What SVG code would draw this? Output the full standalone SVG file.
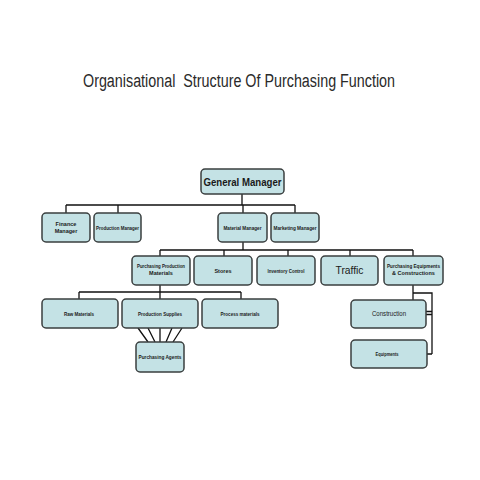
<svg xmlns="http://www.w3.org/2000/svg" width="480" height="480" viewBox="0 0 480 480">
<style>
.box{fill:#c4e2e5;stroke:#3a3f3f;stroke-width:1.5}
.ln{stroke:#111;stroke-width:1.3;fill:none}
.t{font-family:"Liberation Sans",Arial,sans-serif;font-size:5.5px;font-weight:bold;fill:#1a1a1a;text-anchor:middle}
.title{font-family:"Liberation Sans",Arial,sans-serif;font-size:18px;fill:#2a2a2a;white-space:pre}
</style>
<rect width="480" height="480" fill="#fff"/>
<text class="title" x="83" y="87" xml:space="preserve" textLength="312" lengthAdjust="spacingAndGlyphs">Organisational  Structure Of Purchasing Function</text>
<g id="connectors">
<path class="ln" d="M242 194V205M66 205H295M66 205V213M118 205V213M243 205V213M295 205V213"/>
<path class="ln" d="M243 242V250M160 250H413M160 250V256M224 250V256M288 250V256M350 250V256M413 250V256"/>
<path class="ln" d="M160 285V292M79 292H241M79 292V299M160 292V299M241 292V299"/>
<path class="ln" d="M138 328L148 342M148 328L155 342M160 328V342M172 328L166 342M182 328L173 342"/>
<path class="ln" d="M413 285V300M413 293H432V354M426 311.5H432M426 314.5H432M427 354H432"/>
</g>
<g id="general-manager"><rect class="box" x="201" y="169" width="83" height="25" rx="4"/><text class="t" x="242.5" y="186" style="font-size:11.5px" textLength="78" lengthAdjust="spacingAndGlyphs">General Manager</text></g>
<g id="finance-manager"><rect class="box" x="42" y="213" width="48" height="29" rx="4"/><text class="t" x="66" y="226">Finance</text><text class="t" x="66" y="233">Manager</text></g>
<g id="production-manager"><rect class="box" x="94" y="213" width="47" height="29" rx="4"/><text class="t" x="117.5" y="229.5" textLength="43" lengthAdjust="spacingAndGlyphs">Production Manager</text></g>
<g id="material-manager"><rect class="box" x="218" y="213" width="49" height="29" rx="4"/><text class="t" x="242.5" y="229.5" textLength="38" lengthAdjust="spacingAndGlyphs">Material Manager</text></g>
<g id="marketing-manager"><rect class="box" x="271" y="213" width="48" height="29" rx="4"/><text class="t" x="295" y="229.5" textLength="43" lengthAdjust="spacingAndGlyphs">Marketing Manager</text></g>
<g id="purchasing-production-materials"><rect class="box" x="132" y="256" width="58" height="29" rx="4"/><text class="t" x="161" y="268" textLength="48" lengthAdjust="spacingAndGlyphs">Purchasing Production</text><text class="t" x="161" y="275">Materials</text></g>
<g id="stores"><rect class="box" x="194" y="256" width="58" height="29" rx="4"/><text class="t" x="223" y="272.5">Stores</text></g>
<g id="inventory-control"><rect class="box" x="257" y="256" width="58" height="29" rx="4"/><text class="t" x="286" y="272.5" textLength="37" lengthAdjust="spacingAndGlyphs">Inventory Control</text></g>
<g id="traffic"><rect class="box" x="321" y="256" width="57" height="29" rx="4"/><text class="t" x="349.5" y="274" style="font-size:10px;font-weight:normal" textLength="28" lengthAdjust="spacingAndGlyphs">Traffic</text></g>
<g id="purchasing-equipments"><rect class="box" x="384" y="256" width="59" height="29" rx="4"/><text class="t" x="413.5" y="268" textLength="53" lengthAdjust="spacingAndGlyphs">Purchasing Equipments</text><text class="t" x="413.5" y="275">&amp; Constructions</text></g>
<g id="raw-materials"><rect class="box" x="42" y="299" width="76" height="29" rx="4"/><text class="t" x="79" y="315.5" textLength="30" lengthAdjust="spacingAndGlyphs">Raw Materials</text></g>
<g id="production-supplies"><rect class="box" x="122" y="299" width="76" height="29" rx="4"/><text class="t" x="160" y="315.5" textLength="44" lengthAdjust="spacingAndGlyphs">Production Supplies</text></g>
<g id="process-materials"><rect class="box" x="202" y="299" width="76" height="29" rx="4"/><text class="t" x="240" y="315.5" textLength="39" lengthAdjust="spacingAndGlyphs">Process materials</text></g>
<g id="purchasing-agents"><rect class="box" x="136" y="342" width="48" height="30" rx="4"/><text class="t" x="160" y="359" textLength="43" lengthAdjust="spacingAndGlyphs">Purchasing Agents</text></g>
<g id="construction"><rect class="box" x="351" y="300" width="75" height="28" rx="4"/><text class="t" x="389" y="316" style="font-size:7px;font-weight:normal" textLength="34" lengthAdjust="spacingAndGlyphs">Construction</text></g>
<g id="equipments"><rect class="box" x="351" y="340" width="76" height="28" rx="4"/><text class="t" x="387" y="356" textLength="23" lengthAdjust="spacingAndGlyphs">Equipments</text></g>
</svg>
